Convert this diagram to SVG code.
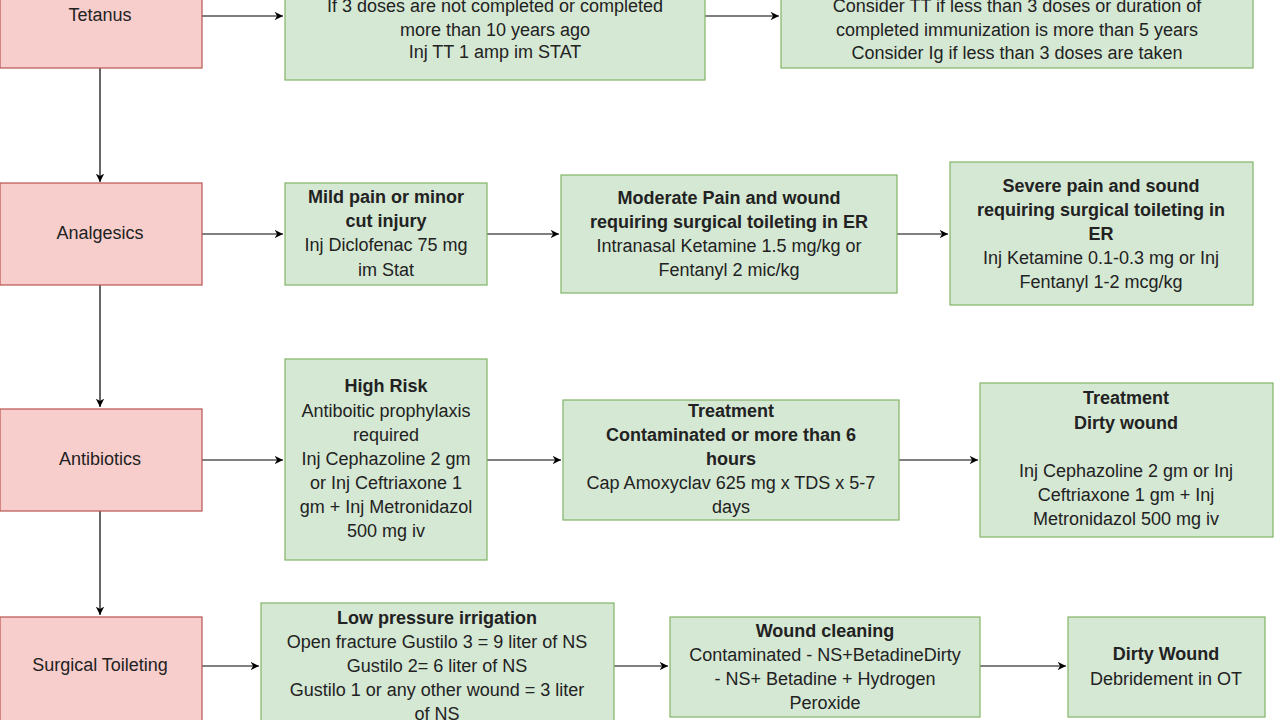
<svg xmlns="http://www.w3.org/2000/svg" width="1280" height="720" viewBox="0 0 1280 720">
<style>
.r{fill:#f8cecc;stroke:#b85450;stroke-width:1.2}
.g{fill:#d5e8d4;stroke:#82b366;stroke-width:1.2}
text{font-family:"Liberation Sans",Arial,sans-serif;font-size:18px;fill:#222;text-anchor:middle;dominant-baseline:central}
.b{font-weight:bold}
.c{stroke:#000;stroke-width:1.2;fill:none;marker-end:url(#a)}
</style>
<defs><marker id="a" viewBox="0 0 10 10" refX="10" refY="5" markerWidth="7" markerHeight="7" orient="auto"><path d="M0,0L10,5L0,10L3,5Z" fill="#000"/></marker></defs>
<rect width="1280" height="720" fill="#fff"/>
<g id="connectors">
<path class="c" d="M202,16H283"/><path class="c" d="M705,16H779"/>
<path class="c" d="M202,234H283"/><path class="c" d="M487,234H559"/><path class="c" d="M897,234H948"/>
<path class="c" d="M202,460H283"/><path class="c" d="M487,460H561"/><path class="c" d="M899,460H978"/>
<path class="c" d="M202,666H259"/><path class="c" d="M614,666H668"/><path class="c" d="M980,666H1066"/>
<path class="c" d="M100,68V182"/><path class="c" d="M100,285V407"/><path class="c" d="M100,511V615"/><path d="M100,720V730" stroke="#000"/>
</g>
<g id="tetanus"><rect class="r" x="0" y="-40" width="202" height="108"/><text x="100" y="15">Tetanus</text></g>
<g id="tt1"><rect class="g" x="285" y="-40" width="420" height="120"/><text x="495" y="6">If 3 doses are not completed or completed</text><text x="495" y="30">more than 10 years ago</text><text x="495" y="52">Inj TT 1 amp im STAT</text></g>
<g id="tt2"><rect class="g" x="781" y="-40" width="472" height="108"/><text x="1017" y="6">Consider TT if less than 3 doses or duration of</text><text x="1017" y="30">completed immunization is more than 5 years</text><text x="1017" y="53">Consider Ig if less than 3 doses are taken</text></g>
<g id="analgesics"><rect class="r" x="0" y="183" width="202" height="102"/><text x="100" y="233">Analgesics</text></g>
<g id="a1"><rect class="g" x="285" y="183" width="202" height="102"/><text class="b" x="386" y="197">Mild pain or minor</text><text class="b" x="386" y="221">cut injury</text><text x="386" y="245">Inj Diclofenac 75 mg</text><text x="386" y="270">im Stat</text></g>
<g id="a2"><rect class="g" x="561" y="175" width="336" height="118"/><text class="b" x="729" y="198">Moderate Pain and wound</text><text class="b" x="729" y="222">requiring surgical toileting in ER</text><text x="729" y="246">Intranasal Ketamine 1.5 mg/kg or</text><text x="729" y="270">Fentanyl 2 mic/kg</text></g>
<g id="a3"><rect class="g" x="950" y="162" width="303" height="143"/><text class="b" x="1101" y="186">Severe pain and sound</text><text class="b" x="1101" y="210">requiring surgical toileting in</text><text class="b" x="1101" y="234">ER</text><text x="1101" y="258">Inj Ketamine 0.1-0.3 mg or Inj</text><text x="1101" y="282">Fentanyl 1-2 mcg/kg</text></g>
<g id="antibiotics"><rect class="r" x="0" y="409" width="202" height="102"/><text x="100" y="459">Antibiotics</text></g>
<g id="b1"><rect class="g" x="285" y="359" width="202" height="201"/><text class="b" x="386" y="386">High Risk</text><text x="386" y="411">Antiboitic prophylaxis</text><text x="386" y="435">required</text><text x="386" y="459">Inj Cephazoline 2 gm</text><text x="386" y="483">or Inj Ceftriaxone 1</text><text x="386" y="507">gm + Inj Metronidazol</text><text x="386" y="531">500 mg iv</text></g>
<g id="b2"><rect class="g" x="563" y="400" width="336" height="120"/><text class="b" x="731" y="411">Treatment</text><text class="b" x="731" y="435">Contaminated or more than 6</text><text class="b" x="731" y="459">hours</text><text x="731" y="483">Cap Amoxyclav 625 mg x TDS x 5-7</text><text x="731" y="507">days</text></g>
<g id="b3"><rect class="g" x="980" y="383" width="293" height="154"/><text class="b" x="1126" y="398">Treatment</text><text class="b" x="1126" y="423">Dirty wound</text><text x="1126" y="471">Inj Cephazoline 2 gm or Inj</text><text x="1126" y="495">Ceftriaxone 1 gm + Inj</text><text x="1126" y="519">Metronidazol 500 mg iv</text></g>
<g id="surgical"><rect class="r" x="0" y="617" width="202" height="130"/><text x="100" y="665">Surgical Toileting</text></g>
<g id="c1"><rect class="g" x="261" y="603" width="353" height="140"/><text class="b" x="437" y="618">Low pressure irrigation</text><text x="437" y="642">Open fracture Gustilo 3 = 9 liter of NS</text><text x="437" y="666">Gustilo 2= 6 liter of NS</text><text x="437" y="690">Gustilo 1 or any other wound = 3 liter</text><text x="437" y="714">of NS</text></g>
<g id="c2"><rect class="g" x="670" y="617" width="310" height="100"/><text class="b" x="825" y="631">Wound cleaning</text><text x="825" y="655">Contaminated - NS+BetadineDirty</text><text x="825" y="679">- NS+ Betadine + Hydrogen</text><text x="825" y="703">Peroxide</text></g>
<g id="c3"><rect class="g" x="1068" y="617" width="197" height="100"/><text class="b" x="1166" y="654">Dirty Wound</text><text x="1166" y="679">Debridement in OT</text></g>
</svg>
